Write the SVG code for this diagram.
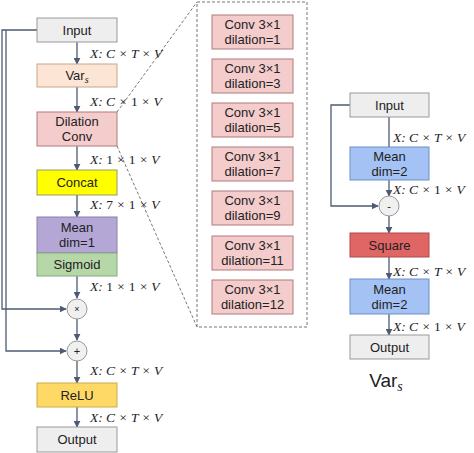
<svg xmlns="http://www.w3.org/2000/svg" width="474" height="453" viewBox="0 0 474 453">
<style>
.t{font-family:"Liberation Sans",Arial,sans-serif;font-size:13px;fill:#222;text-anchor:middle}
.m{font-family:"Liberation Serif","Times New Roman",serif;font-size:13.5px;font-style:italic;fill:#222}
.m tspan.n{font-style:normal}
.c{stroke:#4d5b72;stroke-width:1.3;fill:none}
.b{stroke-width:1}
.conv{fill:#f4cccc;stroke:#b27a7a}
.d{stroke:#777;stroke-width:1;stroke-dasharray:3,2;fill:none}
.sub{font-family:"Liberation Serif",serif;font-style:italic}
</style>
<defs>
<marker id="a" viewBox="0 0 10 10" refX="9" refY="5" markerWidth="7" markerHeight="7" orient="auto" markerUnits="userSpaceOnUse"><path d="M0,0 L10,5 L0,10 z" fill="#4d5b72"/></marker>
</defs>
<rect width="474" height="453" fill="#fff"/>

<g id="connectors">
<path class="c" marker-end="url(#a)" d="M77,42 V64"/>
<path class="c" marker-end="url(#a)" d="M77,87 V112"/>
<path class="c" marker-end="url(#a)" d="M77,146 V170"/>
<path class="c" marker-end="url(#a)" d="M77,195 V217"/>
<path class="c" marker-end="url(#a)" d="M77,276 V298"/>
<path class="c" marker-end="url(#a)" d="M77,319 V340"/>
<path class="c" marker-end="url(#a)" d="M77,361 V383"/>
<path class="c" marker-end="url(#a)" d="M77,407 V427"/>
<path class="c" marker-end="url(#a)" d="M37,30 H2 V309 H66"/>
<path class="c" marker-end="url(#a)" d="M6,30 V351 H66"/>
<path class="c" marker-end="url(#a)" d="M389,117 V196"/>
<path class="c" marker-end="url(#a)" d="M389,216 V233"/>
<path class="c" marker-end="url(#a)" d="M389,257 V279"/>
<path class="c" marker-end="url(#a)" d="M389,314 V335"/>
<path class="c" marker-end="url(#a)" d="M350,105 H331 V206 H378"/>
<path class="d" d="M117,112 L197,2 M117,146 L197,327"/>
</g>

<g id="labels">
<text class="m" x="90" y="58">X: C × T × V</text>
<text class="m" x="90" y="106">X: C × <tspan class="n">1</tspan> × V</text>
<text class="m" x="90" y="164">X: <tspan class="n">1</tspan> × <tspan class="n">1</tspan> × V</text>
<text class="m" x="90" y="209">X: <tspan class="n">7</tspan> × <tspan class="n">1</tspan> × V</text>
<text class="m" x="90" y="291">X: <tspan class="n">1</tspan> × <tspan class="n">1</tspan> × V</text>
<text class="m" x="90" y="375">X: C × T × V</text>
<text class="m" x="90" y="422">X: C × T × V</text>
<text class="m" x="393" y="142">X: C × T × V</text>
<text class="m" x="393" y="194">X: C × <tspan class="n">1</tspan> × V</text>
<text class="m" x="393" y="276">X: C × T × V</text>
<text class="m" x="393" y="331">X: C × <tspan class="n">1</tspan> × V</text>
</g>

<g id="input">
<rect class="b" x="37" y="18" width="80" height="24" fill="#eeeeee" stroke="#999"/>
<text class="t" x="77" y="35">Input</text>
</g>
<g id="vars">
<rect class="b" x="37" y="64" width="80" height="23" fill="#fce5d5" stroke="#c9a58c"/>
<text class="t" x="77" y="80">Var<tspan class="sub" style="font-size:10px" dy="3">s</tspan></text>
</g>
<g id="dilation">
<rect class="b" x="37" y="112" width="80" height="34" fill="#f4cccc" stroke="#b27a7a"/>
<text class="t" x="77" y="126">Dilation</text>
<text class="t" x="77" y="141">Conv</text>
</g>
<g id="concat">
<rect class="b" x="37" y="170" width="80" height="25" fill="#ffff00" stroke="#999966"/>
<text class="t" x="77" y="187">Concat</text>
</g>
<g id="mean1">
<rect class="b" x="37" y="217" width="80" height="36" fill="#b4a7d6" stroke="#8a7fb0"/>
<text class="t" x="77" y="232">Mean</text>
<text class="t" x="77" y="247">dim=1</text>
</g>
<g id="sigmoid">
<rect class="b" x="37" y="253" width="80" height="23" fill="#b6d7a8" stroke="#88a880"/>
<text class="t" x="77" y="269">Sigmoid</text>
</g>
<g id="mul">
<circle cx="77" cy="309" r="10" fill="#f0f0f0" stroke="#999"/>
<text class="t" x="77" y="312" style="font-size:9px">×</text>
</g>
<g id="add">
<circle cx="77" cy="351" r="10" fill="#f0f0f0" stroke="#999"/>
<text class="t" x="77" y="355" style="font-size:11px">+</text>
</g>
<g id="relu">
<rect class="b" x="37" y="383" width="80" height="24" fill="#ffd966" stroke="#c9a94f"/>
<text class="t" x="77" y="400">ReLU</text>
</g>
<g id="output">
<rect class="b" x="37" y="427" width="80" height="25" fill="#eeeeee" stroke="#999"/>
<text class="t" x="77" y="444">Output</text>
</g>

<g id="zoombox">
<rect class="d" x="197" y="2" width="110" height="325"/>
</g>
<g id="conv1"><rect class="conv" x="212" y="15" width="81" height="34"/><text class="t" x="252.5" y="29">Conv 3×1</text><text class="t" x="252.5" y="44">dilation=1</text></g>
<g id="conv3"><rect class="conv" x="212" y="59" width="81" height="34"/><text class="t" x="252.5" y="73">Conv 3×1</text><text class="t" x="252.5" y="88">dilation=3</text></g>
<g id="conv5"><rect class="conv" x="212" y="103" width="81" height="34"/><text class="t" x="252.5" y="117">Conv 3×1</text><text class="t" x="252.5" y="132">dilation=5</text></g>
<g id="conv7"><rect class="conv" x="212" y="147" width="81" height="34"/><text class="t" x="252.5" y="161">Conv 3×1</text><text class="t" x="252.5" y="176">dilation=7</text></g>
<g id="conv9"><rect class="conv" x="212" y="191" width="81" height="34"/><text class="t" x="252.5" y="205">Conv 3×1</text><text class="t" x="252.5" y="220">dilation=9</text></g>
<g id="conv11"><rect class="conv" x="212" y="236" width="81" height="34"/><text class="t" x="252.5" y="250">Conv 3×1</text><text class="t" x="252.5" y="265">dilation=11</text></g>
<g id="conv12"><rect class="conv" x="212" y="280" width="81" height="34"/><text class="t" x="252.5" y="294">Conv 3×1</text><text class="t" x="252.5" y="309">dilation=12</text></g>

<g id="r_input">
<rect class="b" x="350" y="93" width="79" height="24" fill="#eeeeee" stroke="#999"/>
<text class="t" x="389.5" y="110">Input</text>
</g>
<g id="r_mean1">
<rect class="b" x="350" y="147" width="79" height="33" fill="#a4c2f4" stroke="#6d8fc7"/>
<text class="t" x="389.5" y="161">Mean</text>
<text class="t" x="389.5" y="176">dim=2</text>
</g>
<g id="r_sub">
<circle cx="389" cy="206" r="10" fill="#f0f0f0" stroke="#999"/>
<text class="t" x="389" y="210" style="font-size:11px">-</text>
</g>
<g id="r_square">
<rect class="b" x="350" y="233" width="79" height="24" fill="#e06666" stroke="#b04848"/>
<text class="t" x="389.5" y="250">Square</text>
</g>
<g id="r_mean2">
<rect class="b" x="350" y="279" width="79" height="35" fill="#a4c2f4" stroke="#6d8fc7"/>
<text class="t" x="389.5" y="294">Mean</text>
<text class="t" x="389.5" y="309">dim=2</text>
</g>
<g id="r_output">
<rect class="b" x="350" y="335" width="79" height="24" fill="#eeeeee" stroke="#999"/>
<text class="t" x="389.5" y="352">Output</text>
</g>
<g id="title">
<text class="t" x="386" y="387" style="font-size:19px">Var<tspan class="sub" style="font-size:14px" dy="4">s</tspan></text>
</g>
</svg>
